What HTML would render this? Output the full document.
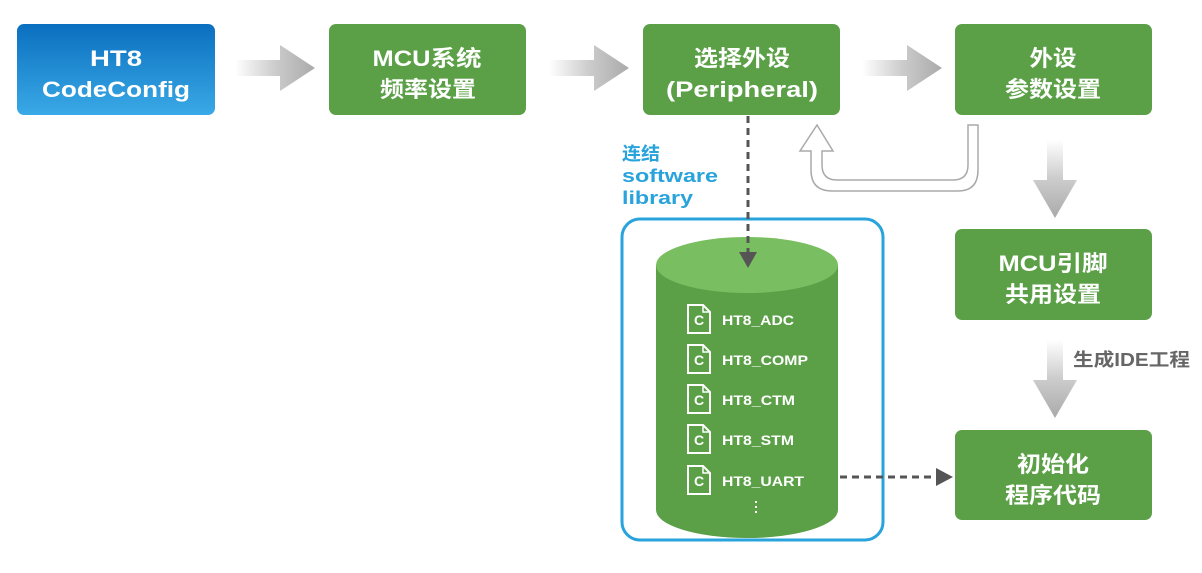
<!DOCTYPE html>
<html><head><meta charset="utf-8"><style>
html,body{margin:0;padding:0;background:#fff;}
svg{display:block;font-family:"Liberation Sans","Noto Sans CJK SC",sans-serif;font-weight:bold;}
</style></head><body>
<svg width="1202" height="573" viewBox="0 0 1202 573" xmlns="http://www.w3.org/2000/svg">
<defs>
<linearGradient id="bl" x1="0" y1="0" x2="0" y2="1"><stop offset="0" stop-color="#0a6fbf"/><stop offset="1" stop-color="#3aa9e6"/></linearGradient>
<linearGradient id="ah" x1="0" y1="0" x2="1" y2="0"><stop offset="0" stop-color="#fff"/><stop offset="0.5" stop-color="#ccc"/><stop offset="1" stop-color="#aaa"/></linearGradient>
<linearGradient id="av" x1="0" y1="0" x2="0" y2="1"><stop offset="0" stop-color="#fff"/><stop offset="0.5" stop-color="#ccc"/><stop offset="1" stop-color="#aaa"/></linearGradient>
<g id="ha"><path d="M0,-8 H45 V-23 L80,0 L45,23 V8 H0 Z" fill="url(#ah)"/></g>
<g id="va"><path d="M-8,0 V40 H-22 L0,78 L22,40 H8 V0 Z" fill="url(#av)"/></g>
<g id="doc"><path d="M0,0 H15 L22,7 V28 H0 Z" fill="none" stroke="#fff" stroke-width="2"/><path d="M15,0 V7 H22" fill="none" stroke="#fff" stroke-width="1.5"/><text x="11" y="20" fill="#fff" font-size="14" text-anchor="middle">C</text></g>
</defs>
<rect x="17" y="24" width="198" height="91" rx="7" fill="url(#bl)"/>
<g fill="#fff" font-size="22" text-anchor="middle" lengthAdjust="spacingAndGlyphs">
<text x="116" y="66" textLength="52" lengthAdjust="spacingAndGlyphs">HT8</text>
<text x="116" y="97" textLength="148" lengthAdjust="spacingAndGlyphs">CodeConfig</text>
</g>
<g fill="#5ba047">
<rect x="329" y="24" width="197" height="91" rx="7"/>
<rect x="643" y="24" width="197" height="91" rx="7"/>
<rect x="955" y="24" width="197" height="91" rx="7"/>
<rect x="955" y="229" width="197" height="91" rx="7"/>
<rect x="955" y="430" width="197" height="90" rx="7"/>
</g>
<g fill="#fff" font-size="22" text-anchor="middle">
<text x="427" y="66" textLength="109" lengthAdjust="spacingAndGlyphs">MCU系统</text><text x="428" y="97" textLength="96" lengthAdjust="spacingAndGlyphs">频率设置</text>
<text x="742" y="66" textLength="96" lengthAdjust="spacingAndGlyphs">选择外设</text><text x="742" y="97" textLength="152" lengthAdjust="spacingAndGlyphs">(Peripheral)</text>
<text x="1053" y="66" textLength="47" lengthAdjust="spacingAndGlyphs">外设</text><text x="1053" y="97" textLength="96" lengthAdjust="spacingAndGlyphs">参数设置</text>
<text x="1053" y="271" textLength="109" lengthAdjust="spacingAndGlyphs">MCU引脚</text><text x="1053" y="302" textLength="96" lengthAdjust="spacingAndGlyphs">共用设置</text>
<text x="1053" y="472" textLength="72" lengthAdjust="spacingAndGlyphs">初始化</text><text x="1053" y="503" textLength="96" lengthAdjust="spacingAndGlyphs">程序代码</text>
</g>
<use href="#ha" x="235" y="68"/>
<use href="#ha" x="549" y="68"/>
<use href="#ha" x="862" y="68"/>
<use href="#va" x="1055" y="140"/>
<use href="#va" x="1055" y="340"/>
<text x="1073" y="366" fill="#666" font-size="18" textLength="117" lengthAdjust="spacingAndGlyphs">生成IDE工程</text>
<path d="M968,125 V165 Q968,180 953,180 H837 Q822,180 822,165 V151 H833 L817,125 L800,151 H811 V170 Q811,191 832,191 H958 Q978,191 978,170 V125 Z" fill="#fff" stroke="#aaa" stroke-width="1.5"/>
<g fill="#29a3dc" font-size="18">
<text x="622" y="160" textLength="38" lengthAdjust="spacingAndGlyphs">连结</text>
<text x="622" y="182" textLength="96" lengthAdjust="spacingAndGlyphs">software</text>
<text x="622" y="204" textLength="71" lengthAdjust="spacingAndGlyphs">library</text></g>
<rect x="622" y="219" width="261" height="321" rx="18" fill="none" stroke="#29a3dc" stroke-width="3"/>
<path d="M656,265 V510 A91,28 0 0 0 838,510 V265 Z" fill="#5ba047"/>
<ellipse cx="747" cy="265" rx="91" ry="28" fill="#79bf61"/>
<line x1="748" y1="116" x2="748" y2="252" stroke="#555" stroke-width="3" stroke-dasharray="7,5"/>
<path d="M739,252 L757,252 L748,268 Z" fill="#555"/>
<g fill="#fff" font-size="14">
<use href="#doc" x="688" y="305"/><text x="722" y="325" textLength="72" lengthAdjust="spacingAndGlyphs">HT8_ADC</text>
<use href="#doc" x="688" y="345"/><text x="722" y="365" textLength="86" lengthAdjust="spacingAndGlyphs">HT8_COMP</text>
<use href="#doc" x="688" y="385"/><text x="722" y="405" textLength="73" lengthAdjust="spacingAndGlyphs">HT8_CTM</text>
<use href="#doc" x="688" y="425"/><text x="722" y="445" textLength="72" lengthAdjust="spacingAndGlyphs">HT8_STM</text>
<use href="#doc" x="688" y="466"/><text x="722" y="486" textLength="82" lengthAdjust="spacingAndGlyphs">HT8_UART</text>
</g>
<g fill="#fff"><rect x="755" y="501" width="2" height="2"/><rect x="755" y="506" width="2" height="2"/><rect x="755" y="511" width="2" height="2"/></g>
<line x1="840" y1="477" x2="936" y2="477" stroke="#555" stroke-width="3" stroke-dasharray="7,5"/>
<path d="M936,468 L953,477 L936,486 Z" fill="#555"/>
</svg>
</body></html>
